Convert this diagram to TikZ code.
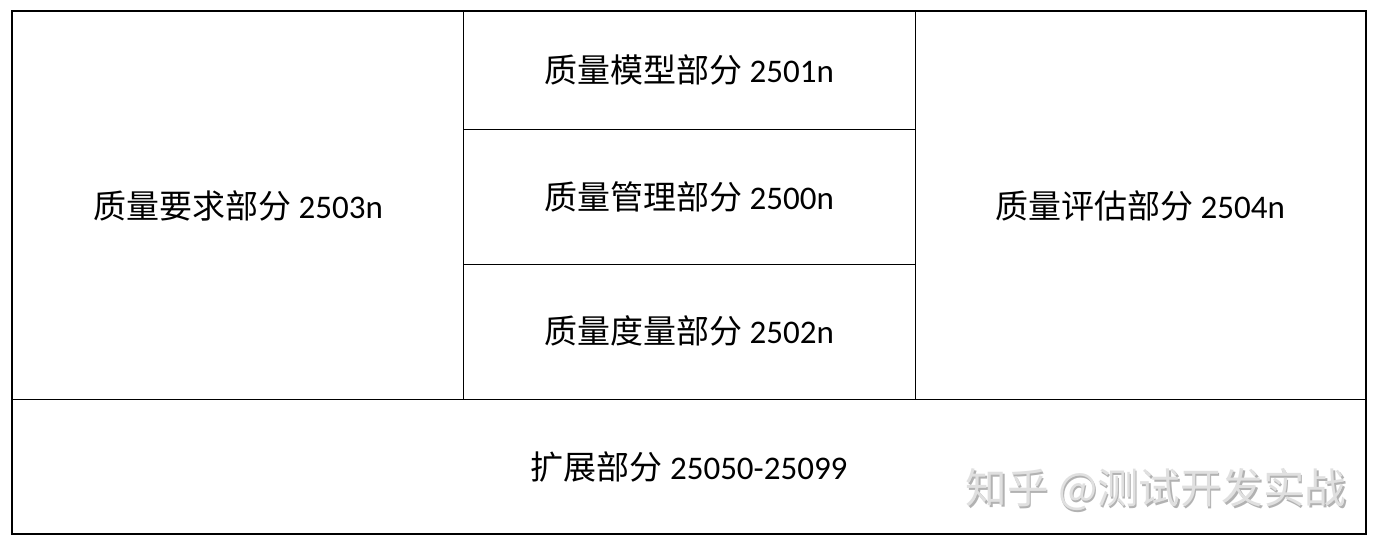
\documentclass[tikz,border=0pt]{standalone}
\usepackage{fontspec}
\setmainfont{Carlito}
\newfontfamily\cjk{Noto Sans CJK SC}
\begin{document}
\begin{tikzpicture}[x=1pt,y=-1pt,
  cell/.style={draw=black,line width=1.3pt,inner sep=0pt,anchor=north west},
  lbl/.style={font=\fontsize{33}{38}\selectfont,inner sep=0pt}]
\useasboundingbox (0,0) rectangle (1380,547);
\fill[white] (0,0) rectangle (1380,547);
\node[cell,minimum width=451pt,minimum height=388pt] (req) at (12,11) {};
\node[cell,minimum width=452pt,minimum height=118pt] (model) at (463,11) {};
\node[cell,minimum width=452pt,minimum height=135pt] (mgmt) at (463,129) {};
\node[cell,minimum width=452pt,minimum height=135pt] (meas) at (463,264) {};
\node[cell,minimum width=451pt,minimum height=388pt] (eval) at (915,11) {};
\node[cell,minimum width=1354pt,minimum height=135pt] (ext) at (12,399) {};
\draw[line width=2pt] (12,11) rectangle (1366,534);
\node[lbl] (treq) at (238,206) {{\cjk 质量要求部分} 2503n};
\node[lbl] (tmodel) at (689,70) {{\cjk 质量模型部分} 2501n};
\node[lbl] (tmgmt) at (689,197) {{\cjk 质量管理部分} 2500n};
\node[lbl] (tmeas) at (689,331) {{\cjk 质量度量部分} 2502n};
\node[lbl] (teval) at (1140,206) {{\cjk 质量评估部分} 2504n};
\node[lbl] (text) at (689,467) {{\cjk 扩展部分} 25050-25099};
\node[font=\fontsize{41.5}{44}\selectfont\cjk,text=black!30,inner sep=0pt] (wm0) at (1157.5,491.5) {知乎 @测试开发实战};
\node[font=\fontsize{41.5}{44}\selectfont\cjk,text=black!12,inner sep=0pt] (wm) at (1156,490) {知乎 @测试开发实战};
\end{tikzpicture}
\end{document}
